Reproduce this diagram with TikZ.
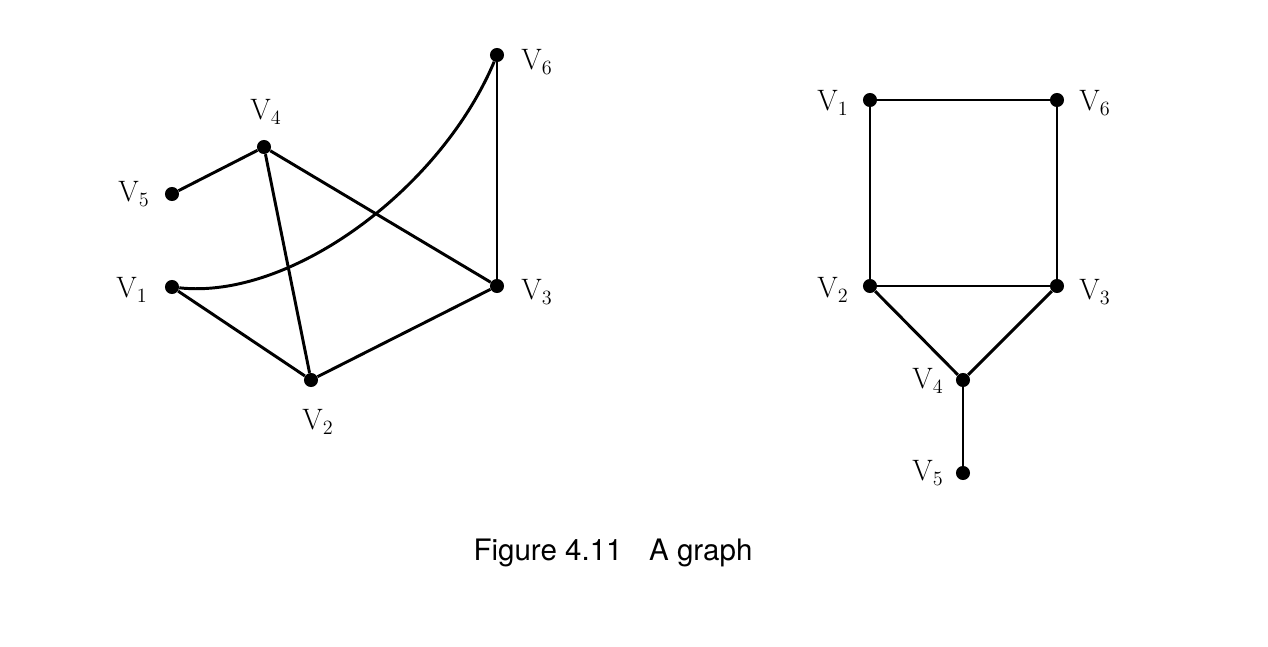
\documentclass[tikz,border=0pt]{standalone}
\usepackage{fontspec}
\newfontfamily\capfont{TeX Gyre Heros}
\begin{document}
\begin{tikzpicture}[x=0.025cm,y=-0.025cm,
  vtx/.style={circle,fill=black,inner sep=0pt,minimum size=10pt},
  lbl/.style={font=\fontsize{21}{25}\selectfont},
  edge/.style={line width=2.1pt}]
\useasboundingbox (0,0) rectangle (1268,646);
% left graph
\node[vtx] (a6) at (497,55) {};
\node[vtx] (a4) at (264,147) {};
\node[vtx] (a5) at (172,194) {};
\node[vtx] (a1) at (172,287) {};
\node[vtx] (a3) at (497,286) {};
\node[vtx] (a2) at (311,380) {};
\node[lbl] (la6) at (537,62) {V$_6$};
\node[lbl] (la4) at (266,112) {V$_4$};
\node[lbl] (la5) at (134,194) {V$_5$};
\node[lbl] (la1) at (132,290) {V$_1$};
\node[lbl] (la3) at (537,292) {V$_3$};
\node[lbl] (la2) at (318,422) {V$_2$};
\draw[edge] (a5) -- (a4) -- (a2) -- (a1);
\draw[edge] (a4) -- (a3) -- (a2);
\draw[edge] (a3) -- (a6);
\draw[edge] (a1) .. controls (290,300) and (440,190) .. (a6);
% right graph
\node[vtx] (b1) at (870,100) {};
\node[vtx] (b6) at (1057,100) {};
\node[vtx] (b2) at (870,286) {};
\node[vtx] (b3) at (1057,286) {};
\node[vtx] (b4) at (963,380) {};
\node[vtx] (b5) at (963,473) {};
\node[lbl] (lb1) at (833,103) {V$_1$};
\node[lbl] (lb6) at (1095,103) {V$_6$};
\node[lbl] (lb2) at (833,290) {V$_2$};
\node[lbl] (lb3) at (1095,292) {V$_3$};
\node[lbl] (lb4) at (928,381) {V$_4$};
\node[lbl] (lb5) at (928,473) {V$_5$};
\draw[edge] (b1) -- (b6) -- (b3) -- (b2) -- (b1);
\draw[edge] (b2) -- (b4) -- (b3);
\draw[edge] (b4) -- (b5);
\node[font=\capfont\fontsize{21}{25}\selectfont] (cap) at (613,553) {Figure 4.11\hspace{0.9em}A graph};
\end{tikzpicture}
\end{document}
